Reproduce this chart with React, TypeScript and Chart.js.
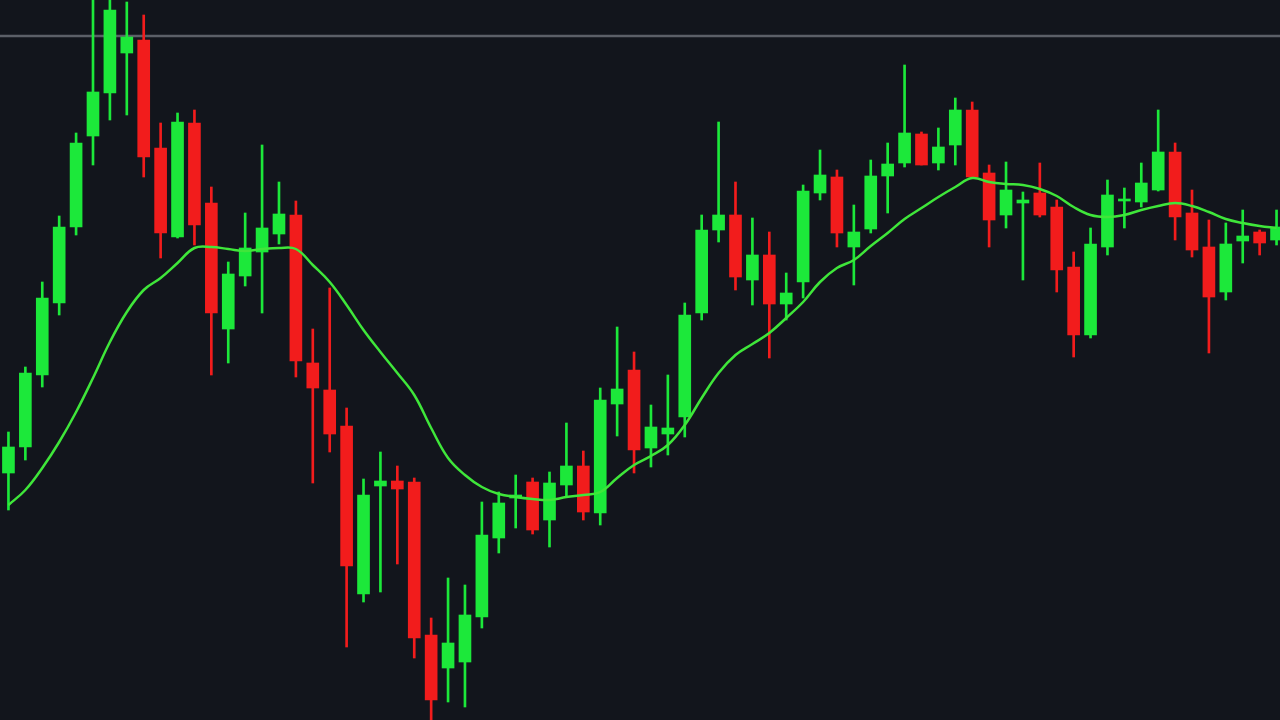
import React, { useEffect, useRef } from "react";
import { Chart, registerables } from "chart.js";

Chart.register(...registerables);

const opens = [247, 273, 345, 417, 493, 584, 627, 667, 680, 572, 483, 597, 517, 391, 444, 468, 486, 505, 357, 330, 294, 126, 234, 239, 238, 85, 52, 58, 103, 182, 222, 238, 200, 235, 254, 207, 316, 350, 272, 286, 303, 407, 490, 505, 440, 465, 416, 438, 527, 543, 473, 491, 544, 557, 586, 557, 575, 610, 547, 505, 517, 527, 513, 453, 385, 473, 519, 518, 530, 568, 507, 473, 428, 479, 488, 480];
const highs = [288, 353, 438, 504, 587, 725, 725, 718, 705, 597, 607, 610, 533, 458, 507, 575, 538, 519, 391, 432, 312, 241, 268, 254, 242, 102, 142, 135, 218, 228, 245, 242, 248, 297, 269, 332, 393, 368, 315, 345, 417, 505, 598, 538, 502, 488, 447, 535, 570, 550, 515, 560, 577, 655, 588, 592, 622, 618, 555, 558, 528, 557, 520, 468, 492, 540, 532, 557, 610, 577, 530, 500, 497, 510, 490, 510];
const lows = [210, 260, 333, 405, 485, 555, 600, 605, 543, 462, 482, 475, 345, 357, 434, 407, 476, 343, 237, 268, 73, 118, 128, 156, 62, -2, 18, 13, 92, 167, 192, 186, 173, 223, 200, 195, 284, 247, 253, 265, 283, 400, 478, 430, 415, 362, 400, 422, 520, 473, 435, 487, 507, 553, 555, 550, 555, 542, 473, 492, 440, 503, 428, 363, 382, 465, 492, 513, 529, 480, 463, 367, 420, 457, 465, 475];
const closes = [273, 347, 422, 493, 577, 628, 710, 683, 563, 487, 598, 495, 407, 446, 472, 492, 506, 359, 332, 286, 154, 225, 239, 231, 82, 20, 77, 105, 185, 217, 225, 190, 237, 254, 208, 320, 331, 270, 293, 292, 405, 490, 505, 443, 465, 416, 427, 529, 545, 487, 488, 544, 556, 587, 555, 573, 610, 543, 500, 530, 520, 505, 450, 385, 476, 525, 521, 537, 568, 503, 470, 423, 476, 484, 477, 493];
const movingAverage = [215, 230, 252, 278, 308, 342, 378, 408, 430, 442, 457, 472, 473, 471, 469, 471, 472, 471, 455, 438, 415, 390, 368, 347, 325, 292, 262, 245, 233, 226, 223, 221, 220, 223, 225, 228, 242, 255, 264, 275, 295, 322, 347, 365, 376, 387, 402, 418, 438, 452, 460, 474, 487, 501, 512, 523, 533, 542, 538, 536, 535, 531, 524, 513, 505, 503, 505, 510, 514, 517, 514, 508, 501, 497, 494, 492];
const priceLevel = 684;
const labels = opens.map((_, i) => String(i + 1));

const UP = "#1ce83a";
const DOWN = "#f21c1c";
const BG = "#12151c";

const priceLinePlugin = {
  id: "priceLine",
  beforeDatasetsDraw(chart: any) {
    const { ctx, scales } = chart;
    const y = scales.y.getPixelForValue(priceLevel);
    ctx.save();
    ctx.strokeStyle = "#5b5f67";
    ctx.lineWidth = 2.5;
    ctx.beginPath();
    ctx.moveTo(0, y);
    ctx.lineTo(chart.width, y);
    ctx.stroke();
    ctx.restore();
  },
};

export default function App() {
  const ref = useRef<HTMLCanvasElement | null>(null);

  useEffect(() => {
    if (!ref.current) return;
    const colors = opens.map((o, i) => (closes[i] >= o ? UP : DOWN));
    const chart = new Chart(ref.current, {
      type: "bar",
      data: {
        labels,
        datasets: [
          {
            type: "line",
            label: "MA",
            data: movingAverage,
            borderColor: "#3fe63a",
            borderWidth: 2.5,
            pointRadius: 0,
            tension: 0.4,
            order: 0,
          } as any,
          {
            label: "Body",
            data: opens.map((o, i) => [o, closes[i]]),
            backgroundColor: colors,
            barThickness: 12,
            minBarLength: 2,
            grouped: false,
            order: 1,
          } as any,
          {
            label: "Wick",
            data: lows.map((l, i) => [l, highs[i]]),
            backgroundColor: colors,
            barThickness: 2,
            grouped: false,
            order: 2,
          } as any,
        ],
      },
      options: {
        animation: false,
        responsive: false,
        layout: { padding: 0 },
        plugins: { legend: { display: false }, tooltip: { enabled: false } },
        scales: {
          x: { type: "category", display: false, offset: true, grid: { display: false } },
          y: { type: "linear", display: false, min: 0, max: 720, grid: { display: false } },
        },
      },
      plugins: [priceLinePlugin],
    });
    return () => chart.destroy();
  }, []);

  return (
    <div
      style={{
        position: "fixed",
        left: 0,
        top: 0,
        width: 1280,
        height: 720,
        overflow: "hidden",
        background: BG,
      }}
    >
      <canvas ref={ref} width={1285} height={720} style={{ display: "block" }} />
    </div>
  );
}
